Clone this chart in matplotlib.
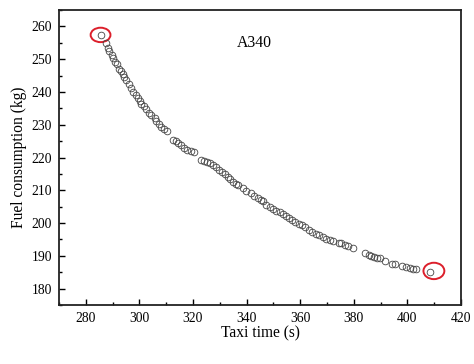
import numpy as np
import matplotlib.pyplot as plt
from matplotlib.patches import Ellipse
from matplotlib.ticker import MultipleLocator

plt.rcParams['font.family'] = ['Liberation Serif', 'DejaVu Serif']

# taxi time (s) and fuel consumption (kg)
taxi_time = [
    285.5, 287.5, 288.3, 288.8, 289.7, 290.3, 290.8, 291.6, 292.5, 293.1,
    293.8, 294.4, 294.9, 296.1, 296.8, 297.7, 298.7, 299.6, 300.3, 300.5,
    301.7, 302.6, 303.5, 304.5, 305.8, 306.3, 307.3, 308.2, 309.3, 310.2,
    312.7, 313.6, 314.5, 315.7, 316.6, 317.7, 319.4, 320.3, 323.1, 324.2,
    325.2, 326.3, 327.4, 328.7, 329.8, 330.8, 331.9, 333.0, 333.9, 335.1,
    336.0, 336.9, 338.6, 339.9, 341.8, 342.9, 344.2, 345.3, 346.3, 347.4,
    348.7, 349.8, 351.1, 352.4, 353.5, 354.7, 355.8, 357.1, 358.2, 359.5,
    360.6, 361.9, 363.2, 364.5, 365.9, 367.2, 368.5, 369.8, 371.1, 372.4,
    374.3, 375.4, 376.7, 378.0, 379.7, 384.2, 385.5, 386.6, 387.7, 388.8,
    389.9, 391.6, 394.2, 395.2, 398.0, 399.5, 400.8, 402.1, 403.4, 408.4,
]
fuel = [
    257.4, 254.8, 253.5, 252.6, 251.4, 250.5, 249.1, 248.4, 247.1, 246.4,
    245.6, 244.6, 243.5, 242.3, 241.2, 240.1, 239.2, 238.3, 237.1, 236.2,
    235.6, 234.7, 233.6, 233.0, 232.2, 231.0, 230.1, 229.2, 228.7, 228.1,
    225.4, 225.0, 224.5, 223.7, 223.0, 222.4, 222.1, 221.6, 219.3, 218.9,
    218.6, 218.4, 217.8, 217.2, 216.3, 215.5, 215.1, 214.2, 213.4, 212.6,
    212.0, 211.6, 210.7, 209.9, 209.1, 208.4, 207.5, 207.0, 206.6, 205.6,
    205.0, 204.4, 203.7, 203.5, 202.9, 202.1, 201.5, 200.8, 200.3, 199.6,
    199.3, 198.7, 197.9, 197.3, 196.8, 196.4, 195.9, 195.2, 194.9, 194.4,
    193.9, 193.8, 193.2, 192.9, 192.3, 190.8, 190.4, 190.1, 189.8, 189.5,
    189.2, 188.3, 187.6, 187.4, 186.8, 186.5, 186.3, 186.0, 185.9, 185.1,
]
aircraft = 'A340'

fig = plt.figure(figsize=(4.74, 3.64), dpi=100)
ax = fig.add_axes([0.1245, 0.162, 0.848, 0.8105])

ax.plot(taxi_time, fuel, 'o', ls='none', ms=4.8, mfc='none', mec='#444444', mew=0.6)

# red rings around the extreme points
ax.add_patch(Ellipse((taxi_time[0], fuel[0]), 7.4, 4.4, fill=False, ec='#dc1f2b', lw=1.4))
ax.add_patch(Ellipse((taxi_time[-1] + 1.5, fuel[-1] + 0.3), 7.8, 5.0, fill=False, ec='#dc1f2b', lw=1.4))

ax.set_xlim(270, 420)
ax.set_ylim(175, 265)
ax.xaxis.set_major_locator(MultipleLocator(20))
ax.xaxis.set_minor_locator(MultipleLocator(10))
ax.yaxis.set_major_locator(MultipleLocator(10))
ax.yaxis.set_minor_locator(MultipleLocator(5))
ax.tick_params(which='both', direction='in', top=False, right=False, labelsize=9.8, width=1.0, pad=5)
ax.tick_params(which='major', length=4.5)
ax.tick_params(which='minor', length=2.5)
for s in ax.spines.values():
    s.set_linewidth(1.3)
    s.set_color('#222222')

ax.set_xlabel('Taxi time (s)', fontsize=11.2, labelpad=0)
ax.set_ylabel('Fuel consumption (kg)', fontsize=11.2, labelpad=3)
ax.text(0.485, 0.888, aircraft, transform=ax.transAxes, ha='center', va='center', fontsize=11.3)

fig.savefig('out.png', dpi=100)
